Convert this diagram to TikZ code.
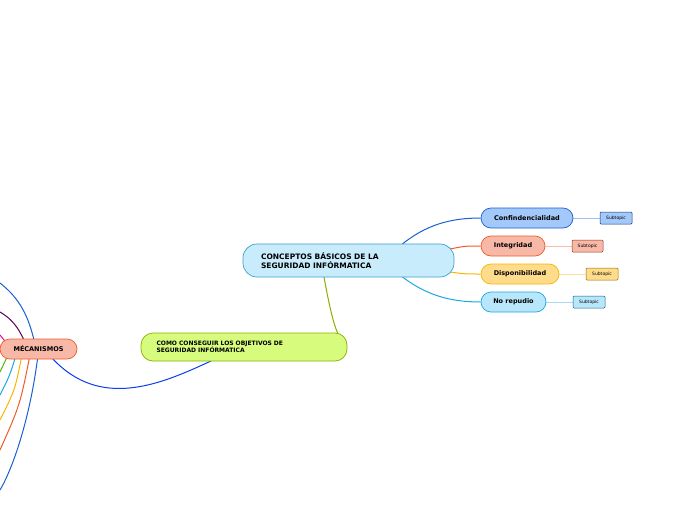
\documentclass[tikz,border=0pt]{standalone}
\usepackage{fontspec}
\setmainfont{DejaVu Sans}
\usetikzlibrary{backgrounds}
\begin{document}
\begin{tikzpicture}[x=1pt,y=-1pt,
 topic/.style={draw,rounded corners=10pt,line width=0.7pt,font=\bfseries\fontsize{6.5}{7.5}\selectfont,inner sep=0pt},
 sub/.style={draw,rounded corners=1pt,line width=0.5pt,font=\fontsize{4.5}{5}\selectfont,inner sep=0pt},
 con/.style={line width=1pt}]
\useasboundingbox (0,0) rectangle (697,520);
\definecolor{cB}{HTML}{1A5FCF}\definecolor{cBf}{HTML}{A3C8FA}
\definecolor{cR}{HTML}{EF5B2A}\definecolor{cRf}{HTML}{F8B8A8}
\definecolor{cO}{HTML}{F7B500}\definecolor{cOf}{HTML}{FEDC8C}
\definecolor{cC}{HTML}{1EA6E6}\definecolor{cCf}{HTML}{B8E7FB}
\definecolor{cM}{HTML}{3AA0D0}\definecolor{cMf}{HTML}{C8ECFC}
\definecolor{cG}{HTML}{88B000}\definecolor{cGf}{HTML}{D7FB7C}
\definecolor{cK}{HTML}{0A3CF0}
\node[topic,draw=cM,fill=cMf,minimum width=211pt,minimum height=33pt,rounded corners=14pt,align=left,text width=175pt,font=\bfseries\fontsize{7.5}{9}\selectfont] (main) at (348.5,260.5) {CONCEPTOS BÁSICOS DE LA\\SEGURIDAD INFÓRMATICA};
\node[topic,draw=cG,fill=cGf,minimum width=206pt,minimum height=28pt,rounded corners=12pt,align=left,text width=175pt,font=\bfseries\fontsize{6}{7}\selectfont] (como) at (244,347) {COMO CONSEGUIR LOS OBJETIVOS DE\\SEGURIDAD INFÓRMATICA};
\node[topic,draw=cR,fill=cRf,minimum width=77pt,minimum height=20pt] (mec) at (38.5,349) {MÉCANISMOS};
\node[topic,draw=cB,fill=cBf,minimum width=92pt,minimum height=20pt] (conf) at (527,218) {Confindencialidad};
\node[topic,draw=cR,fill=cRf,minimum width=64pt,minimum height=20pt] (int) at (513,246) {Integridad};
\node[topic,draw=cO,fill=cOf,minimum width=78pt,minimum height=20pt] (disp) at (520,274) {Disponibilidad};
\node[topic,draw=cC,fill=cCf,minimum width=65pt,minimum height=20pt] (norep) at (513.5,302) {No repudio};
\node[sub,draw=cB!60!black,fill=cBf,minimum width=32pt,minimum height=12pt] (s1) at (616,218) {Subtopic};
\node[sub,draw=cR!60!black,fill=cRf,minimum width=31pt,minimum height=12pt] (s2) at (587.5,246) {Subtopic};
\node[sub,draw=cO!60!black,fill=cOf,minimum width=32pt,minimum height=12pt] (s3) at (602,274) {Subtopic};
\node[sub,draw=cC!60!black,fill=cCf,minimum width=32pt,minimum height=12pt] (s4) at (589,302) {Subtopic};
\begin{pgfonlayer}{background}
\draw[con,cB] (400,246) .. controls (425,225) and (450,218) .. (conf.west);
\draw[con,cR] (450,249) .. controls (465,246) .. (int.west);
\draw[con,cO] (450,272) .. controls (465,274) .. (disp.west);
\draw[con,cC] (400,275) .. controls (425,295) and (450,302) .. (norep.west);
\draw[con,cG] (324,277) .. controls (330,310) and (334,325) .. (338,334);
\draw[con,cK] (213,360) .. controls (160,385) and (100,410) .. (52,358);
\draw[line width=0.6pt,cB!40] (conf.east) -- (s1.west);
\draw[line width=0.6pt,cR!40] (int.east) -- (s2.west);
\draw[line width=0.6pt,cO!40] (disp.east) -- (s3.west);
\draw[line width=0.6pt,cC!40] (norep.east) -- (s4.west);
\coordinate (e1) at (0,283);\coordinate (e2) at (0,312);\coordinate (e3) at (0,335);
\coordinate (e4) at (0,372);\coordinate (e5) at (0,395);\coordinate (e6) at (0,420);
\coordinate (e7) at (0,450);\coordinate (e8) at (0,490);
\draw[con,cB] (35,345) .. controls (28,310) and (15,295) .. (e1);
\draw[con,violet!70!black] (26,345) .. controls (18,325) and (10,318) .. (e2);
\draw[con,magenta] (8,345) -- (e3);
\draw[con,green!60!black!70!yellow] (8,355) -- (e4);
\draw[con,cC] (16,355) .. controls (10,375) .. (e5);
\draw[con,cO] (22,355) .. controls (15,390) .. (e6);
\draw[con,cR] (30,355) .. controls (20,405) .. (e7);
\draw[con,cB] (38,355) .. controls (30,420) and (12,470) .. (e8);
\end{pgfonlayer}
\end{tikzpicture}
\end{document}
